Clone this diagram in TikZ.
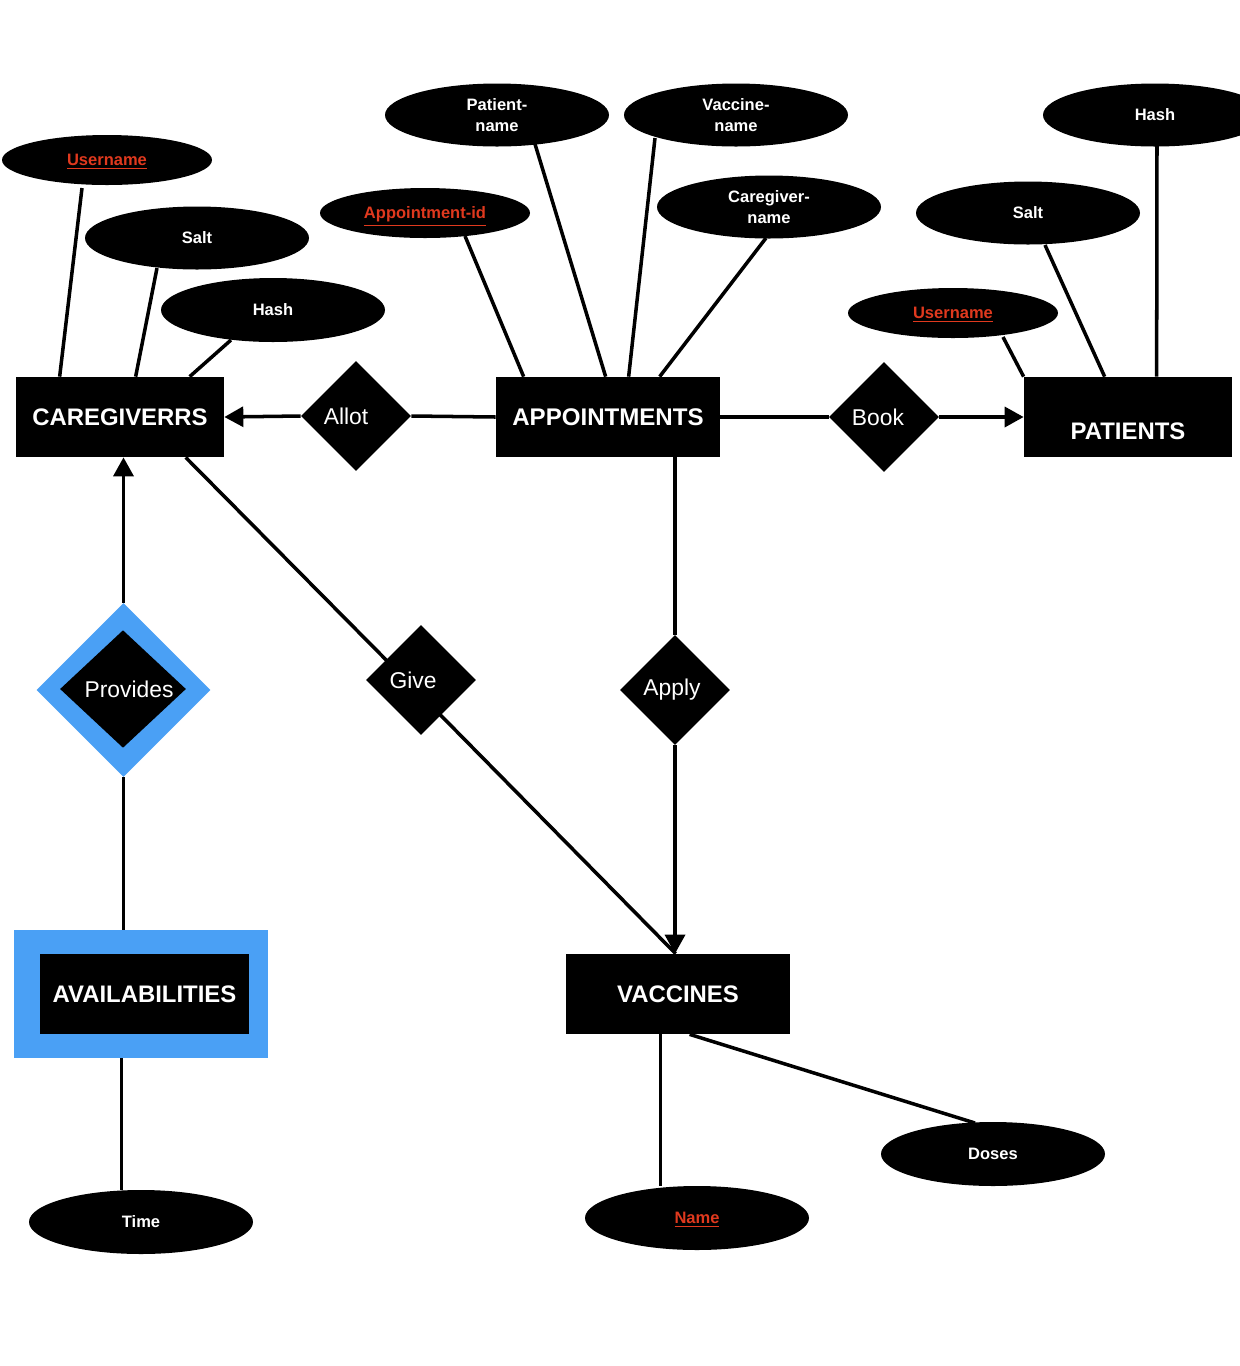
\documentclass[tikz,border=0pt]{standalone}
\usepackage{fontspec}
\setmainfont{Liberation Sans}
\usetikzlibrary{shapes.geometric,arrows.meta,backgrounds,calc}
\begin{document}
\begin{tikzpicture}[
  entity/.style={fill=black, text=white, font=\fontsize{13.6}{16}\selectfont\bfseries, minimum width=4.16cm, minimum height=1.6cm, inner sep=0pt},
  rel/.style={diamond, fill=black, text=white, font=\fontsize{13}{15}\selectfont, minimum width=2.2cm, minimum height=2.2cm, inner sep=0pt},
  attr/.style={ellipse, fill=black, text=white, font=\fontsize{9.4}{12}\selectfont\bfseries, minimum width=4.48cm, minimum height=1.26cm, inner sep=0pt, align=center},
  keyattr/.style={attr, minimum width=4.2cm, minimum height=1cm, text=colorkey, text depth=0pt},
  link/.style={line width=2pt},
  isa/.style={link, -{Triangle[length=0.38cm, width=0.4cm]}}
]
% Define colors
\definecolor{colorweak}{HTML}{4AA0F5}
\definecolor{colorkey}{HTML}{E0391E}
\useasboundingbox (0,0) rectangle (24.8,-27.32);
\clip (0,0) rectangle (24.8,-27.32);
  %%%%%%%%%% Entities
  \node[entity] (cg) at (2.40,-8.34) {CAREGIVERRS};
  \node[entity, minimum width=4.48cm, font=\fontsize{13.7}{16}\selectfont\bfseries] (app) at (12.16,-8.34) {APPOINTMENTS};
  \node[entity] (pt) at (22.56,-8.34) {\raisebox{0pt}[\dimexpr\height+0.56cm\relax][\depth]{PATIENTS}};
  \node[entity, minimum width=4.48cm] (vac) at (13.56,-19.88) {VACCINES};
  \node[fill=colorweak, minimum width=5.08cm, minimum height=2.56cm, inner sep=0pt] (avB) at (2.82,-19.88) {};
  \node[entity, minimum width=4.18cm] (av) at (2.89,-19.88) {AVAILABILITIES};
  %%%%%%%%%% Relations
  \node[rel] (allot) at (7.12,-8.32) {Allot\kern0.4cm};
  \node[rel] (book) at (17.68,-8.34) {Book\kern0.24cm};
  \node[rel] (give) at (8.42,-13.60) {Give\kern0.32cm};
  \node[rel] (apply) at (13.50,-13.80) {Apply\kern0.12cm};
  \node[rel, fill=colorweak, minimum width=3.48cm, minimum height=3.48cm] (provB) at (2.47,-13.80) {};
  \node[rel, minimum width=2.52cm, minimum height=2.2cm] (prov) at (2.46,-13.78) {\kern0.24cm Provides};
  %%%%%%%%%% Attributes
  \node[keyattr] (uC) at (2.14,-3.20) {\underline{Username}};
  \node[attr] (sC) at (3.94,-4.76) {Salt};
  \node[attr, minimum height=1.28cm] (hC) at (5.46,-6.20) {Hash};
  \node[keyattr] (aid) at (8.50,-4.26) {\underline{Appointment-id}};
  \node[attr] (pn) at (9.94,-2.30) {Patient-\\name};
  \node[attr] (vn) at (14.72,-2.30) {Vaccine-\\name};
  \node[attr] (cgn) at (15.38,-4.14) {Caregiver-\\name};
  \node[attr] (hP) at (23.10,-2.30) {Hash};
  \node[attr] (sP) at (20.56,-4.26) {Salt};
  \node[keyattr] (uP) at (19.06,-6.26) {\underline{Username}};
  \node[attr, minimum height=1.28cm] (time) at (2.82,-24.44) {Time};
  \node[keyattr, minimum width=4.48cm, minimum height=1.28cm] (name) at (13.94,-24.36) {\underline{Name}};
  \node[attr, minimum height=1.28cm] (doses) at (19.86,-23.08) {Doses};
  %%%%%%%%%% Connectors
  \begin{scope}[on background layer]
  % attribute lines
  \draw[link] ($(uC)+(-0.5,-0.56)$) -- ($(cg.north west)+(0.88,0)$);
  \draw[link] ($(sC)+(-0.8,-0.6)$) -- ($(cg.north west)+(2.4,0)$);
  \draw[link] ($(hC)+(-0.84,-0.6)$) -- ($(cg.north west)+(3.48,0)$);
  \draw[link] ($(aid)+(0.8,-0.46)$) -- ($(app.north west)+(0.56,0)$);
  \draw[link] ($(pn)+(0.76,-0.58)$) -- ($(app.north west)+(2.2,0)$);
  \draw[link] ($(vn)+(-1.62,-0.46)$) -- ($(app.north west)+(2.66,0)$);
  \draw[link] ($(cgn)+(-0.06,-0.62)$) -- ($(app.north west)+(3.28,0)$);
  \draw[link] ($(uP)+(1.0,-0.48)$) -- (pt.north west);
  \draw[link] ($(sP)+(0.34,-0.64)$) -- ($(pt.north west)+(1.62,0)$);
  \draw[link] ($(hP)+(0.04,-0.62)$) -- ($(pt.north west)+(2.66,0)$);
  \draw[link] ($(avB.south west)+(2.16,0)$) coordinate (t1) -- (t1 |- time.north);
  \draw[link] ($(vac.south west)+(1.9,0)$) coordinate (n1) -- (n1 |- name.north);
  \draw[link] ($(vac.south west)+(2.48,0)$) -- ($(doses)+(-0.36,0.62)$);
  % relation lines
  \draw[isa] (allot.west) -- (cg.east);
  \draw[link] (allot.east) -- (app.west);
  \draw[link] (app.east) -- (book.west);
  \draw[isa] (book.east) -- (pt.west);
  \draw[isa] (provB.north) -- (provB.north |- cg.south);
  \draw[link] (provB.south) -- (provB.south |- avB.north);
  \draw[link] ($(cg.south west)+(3.4,0)$) -- ($(give)+(-0.3,0)$);
  \draw[link] ($(give)+(-0.3,0)$) -- ($(vac.north west)+(2.2,0)$);
  \draw[link] (apply.north |- app.south) -- (apply.north);
  \draw[isa] (apply.south) -- (apply.south |- vac.north);
  \end{scope}
\end{tikzpicture}
\end{document}
